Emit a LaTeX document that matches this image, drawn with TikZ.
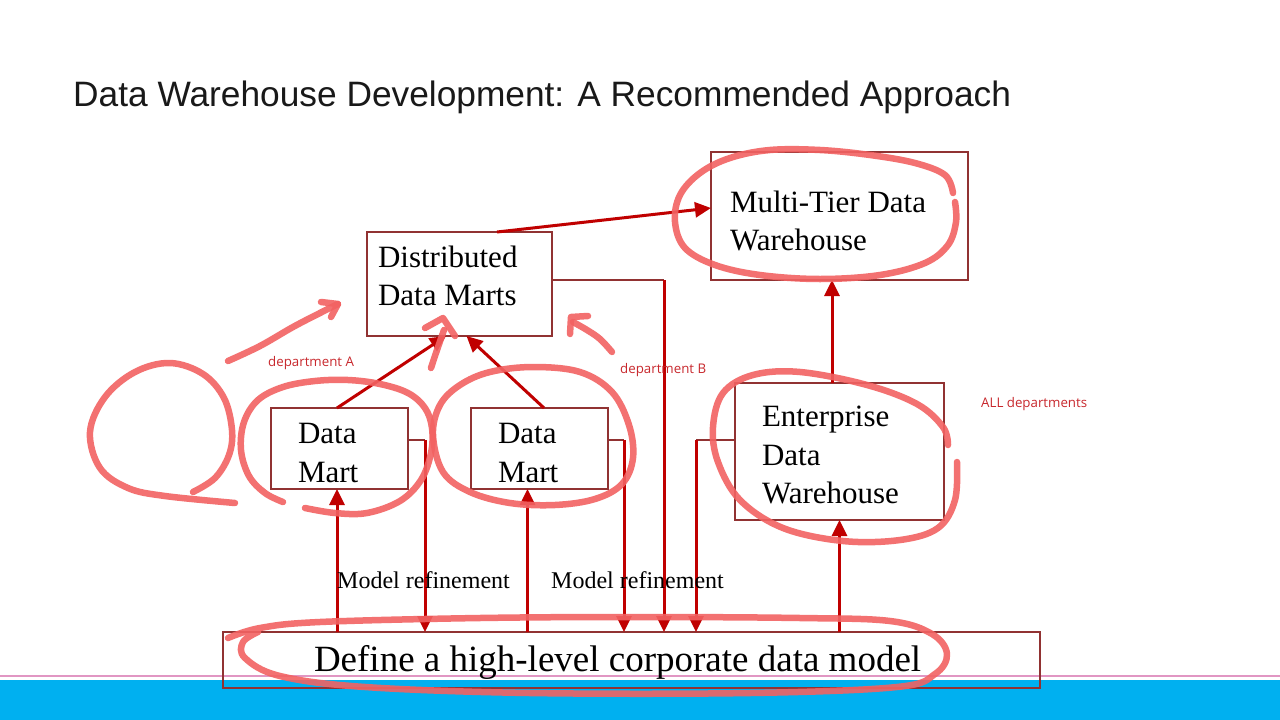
\documentclass[tikz,border=0pt]{standalone}
\usepackage{fontspec}
\setmainfont{Liberation Serif}
\newfontfamily\titlefont{Liberation Sans}
\newfontfamily\notefont{Open Sans}
\usetikzlibrary{arrows.meta}
\definecolor{boxred}{RGB}{145,50,50}
\definecolor{arrred}{RGB}{192,0,0}
\definecolor{penred}{RGB}{242,98,98}
\definecolor{notered}{RGB}{200,40,45}
\definecolor{barblue}{RGB}{0,176,240}
\definecolor{barpink}{RGB}{225,150,195}
\tikzset{
  box/.style={draw=boxred, line width=1.4pt, inner ysep=0pt, outer sep=0pt, align=flush left,
    font=\fontsize{31}{38.5}\selectfont},
  conn/.style={draw=arrred, line width=3pt, -{Triangle[length=16pt,width=15pt]}},
  link/.style={draw=boxred, line width=1.4pt},
  penline/.style={draw=penred, line width=6.5pt, line cap=round, line join=round, opacity=0.9},
  note/.style={text=notered, font=\notefont\fontsize{13.3}{15}\selectfont, anchor=base west, inner sep=0pt},
  refine/.style={font=\fontsize{24}{28}\selectfont, anchor=base west, inner sep=0pt},
}
\begin{document}
\begin{tikzpicture}[x=1pt,y=-1pt]
\useasboundingbox (0,0) rectangle (1280,720);
\fill[white] (0,0) rectangle (1280,720);
\fill[barblue] (0,680) rectangle (1280,720);
\draw[barpink, line width=2pt] (0,676) -- (1280,676);

% title
\node[anchor=base west, inner sep=0pt, font=\titlefont\fontsize{35.3}{42}\selectfont, text=black!90]
  (title) at (73,106) {Data Warehouse Development: A Recommended Approach};

% boxes
\node[box, minimum width=257pt, minimum height=128pt, inner xsep=19pt, text width=219pt]
  (mt) at (839.5,216) {\rule{0pt}{37.5pt}Multi-Tier Data\\Warehouse\rule[-7pt]{0pt}{0pt}};
\node[box, minimum width=185pt, minimum height=104pt, inner xsep=11pt, text width=163pt]
  (ddm) at (459.5,284) {\rule{0pt}{24pt}Distributed\\Data Marts\rule[-19.5pt]{0pt}{0pt}};
\node[box, minimum width=137pt, minimum height=81pt, inner xsep=27pt, text width=83pt]
  (dm1) at (339.5,448.5) {\rule{0pt}{35.5pt}Data\\Mart\rule[-7pt]{0pt}{0pt}};
\node[box, minimum width=137pt, minimum height=81pt, inner xsep=27pt, text width=83pt]
  (dm2) at (539.5,448.5) {\rule{0pt}{35.5pt}Data\\Mart\rule[-7pt]{0pt}{0pt}};
\node[box, minimum width=209pt, minimum height=137pt, inner xsep=27pt, text width=155pt]
  (edw) at (839.5,451.5) {\rule{0pt}{34.4pt}Enterprise\\Data\\Warehouse\rule[-7pt]{0pt}{0pt}};
\node[box, minimum width=817pt, minimum height=56pt, inner xsep=91pt, text width=635pt,
  font=\fontsize{37}{44}\selectfont]
  (def) at (631.5,660) {\rule{0pt}{33.4pt}Define a high-level corporate data model\rule[-10pt]{0pt}{0pt}};

% connectors
\draw[conn] ([xshift=37.5pt]ddm.north) -- ([yshift=8pt]mt.west);
\draw[conn] ([xshift=-2.5pt]dm1.north) -- ([xshift=-13.5pt]ddm.south);
\draw[conn] ([xshift=4.5pt]dm2.north) -- ([xshift=7pt]ddm.south);
\coordinate (e1) at ([xshift=-7.5pt]edw.north);
\draw[conn] (e1) -- (e1 |- mt.south);
\coordinate (u1) at ([xshift=-2.5pt]dm1.south);
\coordinate (u2) at ([xshift=-12pt]dm2.south);
\draw[conn] (u1 |- def.north) -- (u1);
\draw[conn] (u2 |- def.north) -- (u2);
\draw[conn] (edw.south |- def.north) -- (edw.south);

\draw[link] ([yshift=8.5pt]dm1.east) -- ++(17pt,0) coordinate (k1);
\draw[conn] (k1) -- (k1 |- def.north);
\draw[link] ([yshift=8.5pt]dm2.east) -- ++(16pt,0) coordinate (k2);
\draw[conn] (k2) -- (k2 |- def.north);
\draw[link] ([yshift=4pt]ddm.east) -- ++(112pt,0) coordinate (k3);
\draw[conn] (k3) -- (k3 |- def.north);
\draw[link] ([yshift=11.5pt]edw.west) -- ++(-39pt,0) coordinate (k4);
\draw[conn] (k4) -- (k4 |- def.north);

\node[refine] (mr1) at (337,588) {Model refinement};
\node[refine] (mr2) at (551,588) {Model refinement};

% annotations
\node[note] (na) at (268,366) {department A};
\node[note] (nb) at (620,373) {department B};
\node[note] (nall) at (981,407) {ALL departments};

% hand-drawn pen strokes
\draw[penline] plot[smooth, tension=0.6] coordinates {(953,193) (945,175) (915,163) (870,155) (820,150) (770,150) (730,158) (700,173) (680,195) (675,222) (685,248) (715,265) (760,275) (820,279) (880,275) (925,263) (948,245) (956,222) (955,202)};
\draw[penline] plot[smooth, tension=0.6] coordinates {(305,508) (335,513) (367,513) (400,501) (421,480) (431,453) (432,428) (425,408) (408,393) (380,384) (348,380) (315,381) (283,387) (258,400) (244,422) (241,450) (249,476) (265,493) (283,502)};
\draw[penline] plot[smooth cycle, tension=0.6] coordinates {(433,435) (440,405) (460,385) (490,372) (533,367) (580,372) (612,392) (629,425) (633,458) (622,484) (595,499) (555,505) (510,503) (470,492) (443,472)};
\draw[penline] plot[smooth, tension=0.6] coordinates {(193,492) (215,478) (229,455) (232,430) (224,398) (203,374) (170,363) (135,372) (105,397) (90,432) (100,468) (128,488) (165,496) (235,503)};
\draw[penline] plot[smooth, tension=0.6] coordinates {(948,445) (943,427) (917,404) (867,385) (800,372) (753,375) (723,393) (713,427) (718,462) (740,500) (783,528) (843,541) (900,540) (938,528) (955,500) (957,462)};
\draw[penline] plot[smooth, tension=0.6] coordinates {(228,638) (260,628) (320,622) (480,618) (640,617) (800,618) (890,621) (932,634) (947,654) (935,674) (897,687) (750,693) (530,693) (365,687) (280,676) (245,658) (243,642) (258,632)};
% small arrows
\draw[penline] plot[smooth, tension=0.6] coordinates {(228,361) (260,346) (293,327) (320,313) (338,304)};
\draw[penline] (321,302) -- (338,304) -- (331,317);
\draw[penline] plot[smooth, tension=0.6] coordinates {(431,368) (437,350) (444,330)};
\draw[penline] (425,328) -- (443,318) -- (455,336);
\draw[penline] plot[smooth, tension=0.6] coordinates {(612,352) (600,339) (587,330) (573,322)};
\draw[penline] (570,334) -- (571,317) -- (588,316);
\end{tikzpicture}
\end{document}
